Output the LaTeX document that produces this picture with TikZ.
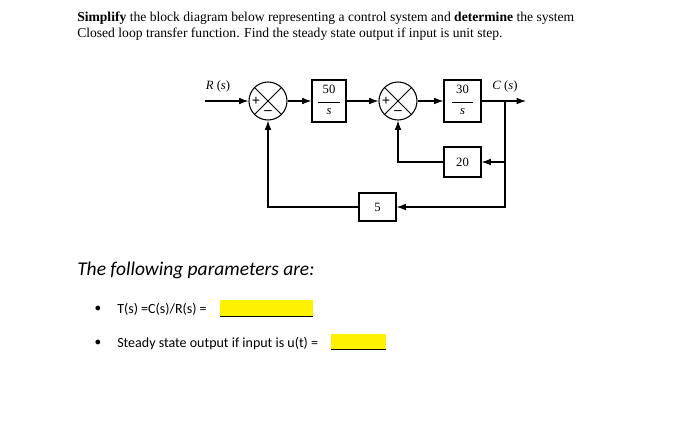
\documentclass[tikz,border=0pt]{standalone}
\usepackage{fontspec}
\setmainfont{Liberation Serif}
\newfontfamily\calfont{Carlito}
\usetikzlibrary{arrows.meta}
\begin{document}
\begin{tikzpicture}[x=0.75pt,y=-0.75pt,
  sum/.style={circle,draw,line width=0.8pt,minimum size=28.5pt,inner sep=0pt,
    path picture={\draw[line width=0.6pt] (path picture bounding box.north west)--(path picture bounding box.south east)
      (path picture bounding box.north east)--(path picture bounding box.south west);}},
  blk/.style={draw,line width=0.8pt,inner sep=0pt,font=\fontsize{9.5}{10}\selectfont},
  sgn/.style={font=\fontsize{11}{11}\selectfont\bfseries,inner sep=0pt},
  con/.style={line width=0.8pt,-{Latex[length=7pt,width=5pt]}},
  txt/.style={inner sep=0pt,anchor=base west}]
\useasboundingbox (0,0) rectangle (700,429);
\node[txt,font=\fontsize{10.2}{11}\selectfont] (t1) at (77,21) {\textbf{Simplify} the block diagram below representing a control system and \textbf{determine} the system};
\node[txt,font=\fontsize{10.2}{11}\selectfont] (t2) at (77,37) {Closed loop transfer function. Find the steady state output if input is unit step.};
\node[sum] (s1) at (268,101) {};
\node[sum] (s2) at (398,101) {};
\node[sgn] (p1) at (256,101) {+};
\node[sgn] (m1) at (268,113) {--};
\node[sgn] (p2) at (386,101) {+};
\node[sgn] (m2) at (398,113) {--};
\node[blk,minimum width=25.5pt,minimum height=31.5pt] (g1) at (329,101) {\begin{tabular}{@{}c@{}}50\\[-3pt]\rule{16pt}{0.5pt}\\[-1pt]\textit{s}\end{tabular}};
\node[blk,minimum width=27.75pt,minimum height=31.5pt] (g2) at (462.5,101) {\begin{tabular}{@{}c@{}}30\\[-3pt]\rule{16pt}{0.5pt}\\[-1pt]\textit{s}\end{tabular}};
\node[blk,minimum width=27.75pt,minimum height=22.5pt] (h1) at (462.5,162) {20};
\node[blk,minimum width=27.75pt,minimum height=21pt] (h2) at (377.5,207) {5};
\coordinate (in) at (205,101);
\coordinate (out) at (526,101);
\coordinate (br) at (505,101);
\node[inner sep=0pt,font=\fontsize{9.5}{10}\selectfont] (R) at (218,86) {\textit{R} (\textit{s})};
\node[inner sep=0pt,font=\fontsize{9.5}{10}\selectfont] (C) at (505,86) {\textit{C} (\textit{s})};
\draw[con] (in)--(s1);
\draw[con] (s1)--(g1);
\draw[con] (g1)--(s2);
\draw[con] (s2)--(g2);
\draw[con] (g2)--(out);
\draw[con] (br)|-(h1);
\draw[con] (br)|-(h2);
\draw[con] (h1)-|(s2);
\draw[con] (h2)-|(s1);
\node[txt,font=\calfont\itshape\fontsize{14.6}{16}\selectfont] (f) at (77,275) {The following parameters are:};
\node[inner sep=0pt,font=\fontsize{9}{10}\selectfont] (b1) at (98,309) {$\bullet$};
\node[inner sep=0pt,font=\fontsize{9}{10}\selectfont] (b2) at (98,343) {$\bullet$};
\fill[yellow] (220,300) rectangle (313,316);
\fill[yellow] (331,334) rectangle (386,349);
\draw[line width=0.5pt] (220,316)--(313,316) (331,349)--(386,349);
\node[txt,font=\calfont\fontsize{10.5}{12}\selectfont] (l1) at (117,313) {T(s) =C(s)/R(s) =};
\node[txt,font=\calfont\fontsize{10.5}{12}\selectfont] (l2) at (117,347) {Steady state output if input is u(t) =};
\end{tikzpicture}
\end{document}
